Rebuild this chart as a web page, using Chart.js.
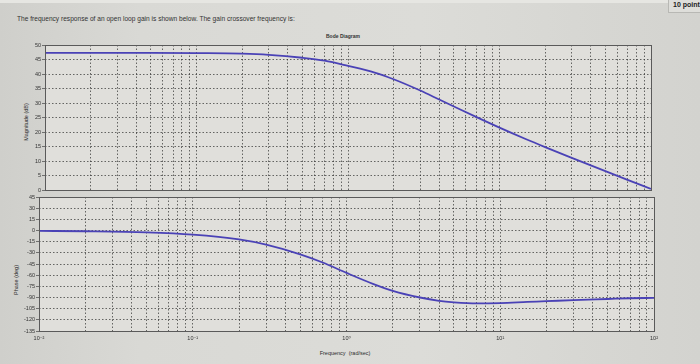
<!DOCTYPE html>
<html>
<head>
<meta charset="utf-8">
<script src="https://cdn.jsdelivr.net/npm/chart.js@4.4.1/dist/chart.umd.min.js"></script>
<style>
  html, body { margin:0; padding:0; }
  body { width:700px; height:364px; overflow:hidden; position:relative;
         background: linear-gradient(90deg, #cfcfcb 0%, #d9d9d5 20%, #dcdcd8 60%, #d3d3cf 100%);
         font-family: "Liberation Sans", Arial, sans-serif; color:#2c2c2c; }
  canvas { position:absolute; left:0; top:0; }
  .t { position:absolute; white-space:nowrap; }
  #question { left:17px; top:15px; font-size:6.6px; color:#333; }
  #bode { left:326px; top:33px; font-size:5px; font-weight:bold; color:#333; }
  #points { left:668px; top:-1px; width:40px; height:14px; border:1px solid #b8b8b4; border-top:none;
            background:#dededa; font-size:7px; font-weight:bold; padding:2px 0 0 4px; box-sizing:border-box; color:#222; }
  #topline { position:absolute; left:0; top:0; width:700px; height:3px; background:#e6e6e2; }
  #ymag { left:26px; top:122px; font-size:5.5px; transform: translate(-50%,-50%) rotate(-90deg); }
  #yph { left:16px; top:280px; font-size:5.5px; transform: translate(-50%,-50%) rotate(-90deg); }
  #xlab { left:345px; top:353px; font-size:5.5px; transform: translate(-50%,-50%); }
</style>
</head>
<body>
<div id="topline"></div>
<div class="t" id="points">10 point</div>
<div class="t" id="question">The frequency response of an open loop gain is shown below. The gain crossover frequency is:</div>
<div class="t" id="bode">Bode Diagram</div>
<div class="t" id="ymag">Magnitude (dB)</div>
<div class="t" id="yph">Phase (deg)</div>
<div class="t" id="xlab">Frequency &nbsp;(rad/sec)</div>
<canvas id="cMag" width="700" height="364"></canvas>
<canvas id="cPh" width="700" height="364"></canvas>
<script>
// ---- data ----
const freq =        [0.01, 0.02, 0.05, 0.1,  0.2,  0.3,  0.5,  0.7,  1,    1.5,  2,    3,    4,    5,    7,    10,   15,   20,   30,   50,  70,  100];
const magnitudeDb = [47.3, 47.3, 47.3, 47.2, 47.0, 46.6, 45.6, 44.6, 42.8, 40.5, 38.2, 34.3, 31.2, 28.8, 25.2, 21.5, 17.5, 14.8, 11.1, 6.5, 3.5, 0.4];
const phaseDeg =    [-0.5, -1,   -2.5, -5.5, -12,  -19,  -32,  -43,  -57,  -72,  -81,  -90,  -94.5,-96.5,-98,  -97.5,-96,  -95,  -93.5,-92, -91, -90.5];
const decadeLabels = {0.01: '10⁻²', 0.1: '10⁻¹', 1: '10⁰', 10: '10¹', 100: '10²'};
const magTicks = {min: 0, max: 50, step: 5};
const phaseTicks = {min: -135, max: 45, step: 15};

const lineColor = '#4a42b6';
const gridColor = 'rgba(40,40,40,0.85)';
const tickFont = {family: 'Liberation Sans, DejaVu Sans, sans-serif', size: 5.5};

const framePlugin = {
  id: 'frame',
  beforeDraw(chart) {
    const {ctx, chartArea: a} = chart;
    ctx.save();
    ctx.fillStyle = '#e0dfdb';
    ctx.fillRect(a.left, a.top, a.right - a.left, a.bottom - a.top);
    ctx.restore();
  },
  afterDraw(chart) {
    const {ctx, chartArea: a} = chart;
    ctx.save();
    ctx.strokeStyle = '#5a5a5a';
    ctx.lineWidth = 1;
    ctx.strokeRect(a.left + 0.5, a.top + 0.5, a.right - a.left, a.bottom - a.top);
    ctx.restore();
  }
};

function keepIntegerSignificands(scale) {
  scale.ticks = scale.ticks.filter(t => {
    const m = t.value / Math.pow(10, Math.floor(Math.log10(t.value) + 1e-9));
    return Math.abs(m - Math.round(m)) < 1e-6;
  });
}

function makeChart(id, values, yt, area, showXLabels) {
  const xHeight = showXLabels ? 364 - area.bottom : 0;
  return new Chart(document.getElementById(id), {
    type: 'line',
    data: {
      datasets: [{
        data: freq.map((f, i) => ({x: f, y: values[i]})),
        borderColor: lineColor,
        borderWidth: 1.8,
        pointRadius: 0,
        cubicInterpolationMode: 'monotone',
        fill: false
      }]
    },
    options: {
      responsive: false,
      animation: false,
      devicePixelRatio: 1,
      layout: {padding: {left: 0, top: area.top, right: 700 - area.right, bottom: showXLabels ? 0 : 364 - area.bottom}},
      plugins: {legend: {display: false}, tooltip: {enabled: false}},
      scales: {
        x: {
          type: 'logarithmic',
          min: 0.01, max: 100,
          afterBuildTicks: keepIntegerSignificands,
          afterFit(s) { s.height = xHeight; },
          grid: {color: gridColor, lineWidth: 0.8, drawTicks: false},
          border: {display: false, dash: [1.5, 2]},
          ticks: {
            display: showXLabels,
            autoSkip: false, maxRotation: 0, padding: 4,
            color: '#333', font: tickFont,
            callback(v) { return decadeLabels[v] || ''; }
          }
        },
        y: {
          min: yt.min, max: yt.max,
          afterFit(s) { s.width = area.left; },
          grid: {color: gridColor, lineWidth: 0.8, tickLength: 3, tickColor: '#555'},
          border: {display: false, dash: [1.5, 2]},
          ticks: {stepSize: yt.step, color: '#333', font: tickFont, padding: 1}
        }
      }
    },
    plugins: [framePlugin]
  });
}

makeChart('cMag', magnitudeDb, magTicks, {left: 45, top: 45, right: 651, bottom: 190}, false);
makeChart('cPh', phaseDeg, phaseTicks, {left: 39, top: 197, right: 654, bottom: 331}, true);
</script>
</body>
</html>
